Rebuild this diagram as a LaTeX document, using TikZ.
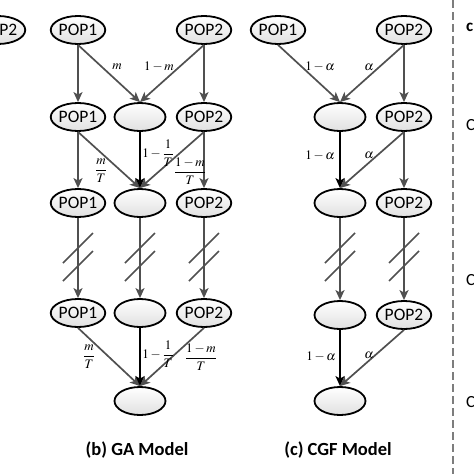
\documentclass[tikz,border=0pt]{standalone}
\usepackage{amsmath}
\usepackage{mathptmx}
\usepackage{fontspec}
\setsansfont{Carlito}
\usetikzlibrary{arrows.meta,shapes.geometric}
\definecolor{linegray}{RGB}{80,80,80}
\definecolor{dashgray}{RGB}{125,125,125}
\tikzset{
  pop/.style={ellipse, draw=black, line width=1.8pt, minimum width=51pt, minimum height=28pt,
    inner sep=0pt, top color=white, bottom color=black!12,
    font=\sffamily\fontsize{17.5}{19}\selectfont},
  flow/.style={draw=linegray, line width=1.7pt, -{Stealth[length=10pt,width=9pt,inset=2.5pt]}},
  keep/.style={flow, draw=black},
  brk/.style={draw=linegray, line width=1.6pt},
  lbl/.style={inner sep=0pt, font=\fontsize{13}{15}\selectfont},
  ttl/.style={font=\sffamily\bfseries\fontsize{18.5}{20}\selectfont},
  cut/.style={anchor=west, inner sep=0pt, font=\sffamily\fontsize{17}{19}\selectfont}
}
\begin{document}
\begin{tikzpicture}[x=1pt,y=-1pt]
  \useasboundingbox (0,0) rectangle (474,474);
  % neighbours cut off by the frame
  \node[pop] (left) at (-2,30) {POP2};
  \draw[dashgray, line width=1.8pt, dash pattern=on 8pt off 4pt] (453,0) -- (453,474);
  \node[cut, font=\sffamily\bfseries\fontsize{17}{19}\selectfont] (rc1) at (466,27) {c};
  \node[cut] (rc2) at (466,125) {C};
  \node[cut] (rc3) at (466,280) {C};
  \node[cut] (rc4) at (466,402) {C};
  % (b) GA model
  \node[pop] (ga11) at (78,30) {POP1};
  \node[pop] (ga13) at (204,30) {POP2};
  \node[pop] (ga21) at (78,117) {POP1};
  \node[pop] (ga22) at (140,117) {};
  \node[pop] (ga23) at (204,117) {POP2};
  \node[pop] (ga31) at (78,203) {POP1};
  \node[pop] (ga32) at (140,203) {};
  \node[pop] (ga33) at (204,203) {POP2};
  \node[pop] (ga41) at (78,313) {POP1};
  \node[pop] (ga42) at (140,313) {};
  \node[pop] (ga43) at (204,313) {POP2};
  \node[pop] (ga5) at (140,401) {};
  \draw[flow] (ga11.south) -- (ga21.north);
  \draw[flow] (ga11.south) -- (ga22.north);
  \draw[flow] (ga13.south) -- (ga22.north);
  \draw[flow] (ga13.south) -- (ga23.north);
  \draw[flow] (ga21.south) -- (ga31.north);
  \draw[flow] (ga21.south) -- (ga32.north);
  \draw[keep] (ga22.south) -- (ga32.north);
  \draw[flow] (ga23.south) -- (ga32.north);
  \draw[flow] (ga23.south) -- (ga33.north);
  \draw[flow] (ga31.south) -- (ga41.north);
  \draw[flow] (ga32.south) -- (ga42.north);
  \draw[flow] (ga33.south) -- (ga43.north);
  \draw[flow] (ga41.south) -- (ga5.north);
  \draw[keep] (ga42.south) -- (ga5.north);
  \draw[flow] (ga43.south) -- (ga5.north);
  \node[lbl] (gl1) at (117,67) {$m$};
  \node[lbl] (gl2) at (159,67) {$1-m$};
  \node[lbl] (gl3) at (101,171) {$\dfrac{m}{T}$};
  \node[lbl] (gl4) at (158,153) {$1-\dfrac{1}{T}$};
  \node[lbl] (gl5) at (190,171) {$\dfrac{1-m}{T}$};
  \node[lbl] (gl6) at (89,357) {$\dfrac{m}{T}$};
  \node[lbl] (gl7) at (158,354) {$1-\dfrac{1}{T}$};
  \node[lbl] (gl8) at (201,357) {$\dfrac{1-m}{T}$};
  \node[ttl] (gatitle) at (137,450) {(b) GA Model};
  % (c) CGF model
  \node[pop] (cg11) at (278,30) {POP1};
  \node[pop] (cg13) at (404,30) {POP2};
  \node[pop] (cg22) at (340,117) {};
  \node[pop] (cg23) at (404,117) {POP2};
  \node[pop] (cg32) at (340,203) {};
  \node[pop] (cg33) at (404,203) {POP2};
  \node[pop] (cg42) at (340,315) {};
  \node[pop] (cg43) at (404,315) {POP2};
  \node[pop] (cg5) at (340,401) {};
  \draw[flow] (cg11.south) -- (cg22.north);
  \draw[flow] (cg13.south) -- (cg22.north);
  \draw[flow] (cg13.south) -- (cg23.north);
  \draw[keep] (cg22.south) -- (cg32.north);
  \draw[flow] (cg23.south) -- (cg32.north);
  \draw[flow] (cg23.south) -- (cg33.north);
  \draw[flow] (cg32.south) -- (cg42.north);
  \draw[flow] (cg33.south) -- (cg43.north);
  \draw[keep] (cg42.south) -- (cg5.north);
  \draw[flow] (cg43.south) -- (cg5.north);
  \node[lbl] (cl1) at (320,67) {$1-\alpha$};
  \node[lbl] (cl2) at (369,67) {$\alpha$};
  \node[lbl] (cl3) at (320,156) {$1-\alpha$};
  \node[lbl] (cl4) at (369,155) {$\alpha$};
  \node[lbl] (cl5) at (321,357) {$1-\alpha$};
  \node[lbl] (cl6) at (369,355) {$\alpha$};
  \node[ttl] (cgtitle) at (338,450) {(c) CGF Model};
  % break marks
  \foreach \x in {78,140,204,340,404} {
    \draw[brk] (\x-15,263) -- (\x+15,233);
    \draw[brk] (\x-15,281) -- (\x+15,251);
  }
\end{tikzpicture}
\end{document}
